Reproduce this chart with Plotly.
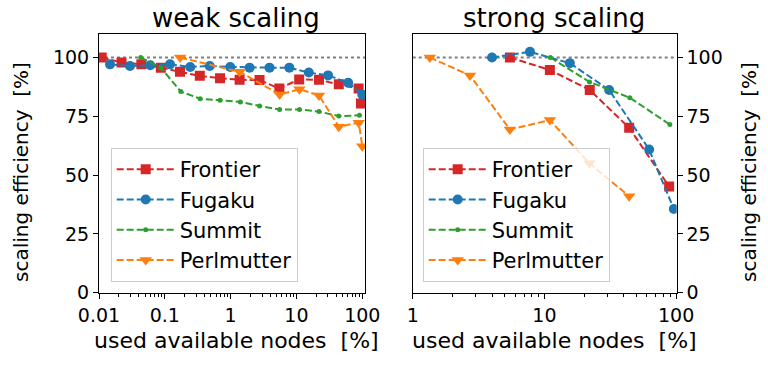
import plotly.graph_objects as go
import math

# ---------------- data ----------------
series_names = ["Frontier", "Fugaku", "Summit", "Perlmutter"]
colors = ["#d62728", "#1f77b4", "#2ca02c", "#ff7f0e"]
symbols = ["square", "circle", "circle", "triangle-down"]
msizes = [10, 10, 5, 11]

# weak scaling (x: used available nodes [%], y: scaling efficiency [%])
weak_frontier_x = [0.011, 0.022, 0.044, 0.087, 0.17, 0.34, 0.69, 1.37, 2.75, 5.5, 11, 22, 44, 88, 95.5]
weak_frontier_y = [100, 97.9, 97.1, 95.7, 93.9, 92.2, 91.2, 90.5, 90.4, 86.8, 90.7, 90.5, 88.6, 86.8, 80.5]
weak_fugaku_x = [0.0147, 0.0296, 0.06, 0.12, 0.243, 0.48, 0.986, 1.94, 3.9, 7.8, 15.4, 30.2, 61, 100]
weak_fugaku_y = [97.1, 96.4, 96.7, 97.1, 96.0, 96.4, 96.0, 95.7, 95.7, 95.7, 93.6, 92.4, 89.3, 84.3]
weak_summit_x = [0.043, 0.087, 0.175, 0.344, 0.69, 1.4, 2.75, 5.55, 11.1, 22, 44, 90.6]
weak_summit_y = [100, 95.7, 85.5, 82.5, 81.8, 81.1, 79.4, 77.9, 77.9, 77.0, 75.1, 75.4]
weak_perlmutter_x = [0.171, 1.37, 5.55, 11.1, 22, 44, 88.5, 100]
weak_perlmutter_y = [100, 93.9, 84.3, 86.5, 83.9, 70.6, 72.3, 62.3]

# strong scaling
strong_frontier_x = [5.47, 11, 22.1, 44, 88.5]
strong_frontier_y = [100, 94.7, 86.2, 70.1, 45.2]
strong_fugaku_x = [4, 7.77, 15.6, 31, 62.4, 96]
strong_fugaku_y = [100, 102.4, 97.6, 86.2, 60.9, 35.6]
strong_summit_x = [11.1, 22, 44.5, 89.6]
strong_summit_y = [100, 89.6, 82.9, 71.5]
strong_perlmutter_x = [1.35, 2.72, 5.47, 11, 22, 44]
strong_perlmutter_y = [100, 92.4, 69.4, 73.4, 55, 41]

weak = [(weak_frontier_x, weak_frontier_y), (weak_fugaku_x, weak_fugaku_y),
        (weak_summit_x, weak_summit_y), (weak_perlmutter_x, weak_perlmutter_y)]
strong = [(strong_frontier_x, strong_frontier_y), (strong_fugaku_x, strong_fugaku_y),
          (strong_summit_x, strong_summit_y), (strong_perlmutter_x, strong_perlmutter_y)]

y_ticks = [0, 25, 50, 75, 100]
weak_x_ticks = [0.01, 0.1, 1, 10, 100]
weak_x_labels = ["0.01", "0.1", "1", "10", "100"]
strong_x_ticks = [1, 10, 100]
strong_x_labels = ["1", "10", "100"]

# ---------------- figure ----------------
FONT = "DejaVu Sans"
W, H = 768, 365
fig = go.Figure()

for i, name in enumerate(series_names):
    for (xs, ys), xa, ya, lg in [(weak[i], "x", "y", "legend"), (strong[i], "x2", "y2", "legend2")]:
        fig.add_trace(go.Scatter(
            x=xs, y=ys, name=name, mode="lines+markers",
            xaxis=xa, yaxis=ya, legend=lg,
            line=dict(color=colors[i], width=2, dash="7px,3px"),
            marker=dict(symbol=symbols[i], size=msizes[i], color=colors[i]),
        ))

def px_x(p):
    return p / W

def px_y(p):
    return 1 - p / H

def minor_vals(lo, hi):
    vals = []
    d = lo
    while d < hi:
        vals += [d * k for k in range(2, 10)]
        d *= 10
    return vals

axis_common = dict(showline=True, linecolor="black", linewidth=1, mirror=True,
                   ticks="outside", ticklen=5, tickcolor="black", showgrid=False,
                   zeroline=False, automargin=False,
                   tickfont=dict(family=FONT, size=19, color="black"))

legend_common = dict(xanchor="left", yanchor="top", itemwidth=58,
                     bgcolor="rgba(255,255,255,0.8)", bordercolor="#cccccc", borderwidth=1,
                     font=dict(family=FONT, size=21, color="black"))

fig.update_layout(
    width=W, height=H, margin=dict(l=0, r=0, t=0, b=0, autoexpand=False),
    paper_bgcolor="white", plot_bgcolor="white",
    font=dict(family=FONT, color="black"),
    xaxis=dict(type="log", domain=[px_x(99), px_x(365)], range=[-2, math.log10(110)],
               tickvals=weak_x_ticks, ticktext=weak_x_labels,
               minor=dict(ticks="outside", ticklen=3, tickcolor="black",
                          tickvals=minor_vals(0.01, 100)),
               anchor="y", **axis_common),
    yaxis=dict(domain=[px_y(292.7), px_y(34)], range=[0, 110], tickvals=y_ticks,
               anchor="x", **axis_common),
    xaxis2=dict(type="log", domain=[px_x(412.7), px_x(676.7)], range=[0, math.log10(101)],
                tickvals=strong_x_ticks, ticktext=strong_x_labels,
                minor=dict(ticks="outside", ticklen=3, tickcolor="black",
                           tickvals=minor_vals(1, 100)),
                anchor="y2", **axis_common),
    yaxis2=dict(domain=[px_y(292.7), px_y(34)], range=[0, 110], tickvals=y_ticks,
                side="right", anchor="x2", **axis_common),
    legend=dict(x=px_x(110.7), y=px_y(148), **legend_common),
    legend2=dict(x=px_x(422.7), y=px_y(148), **legend_common),
    showlegend=True,
)

for xr, yr in [("x domain", "y"), ("x2 domain", "y2")]:
    fig.add_shape(type="line", xref=xr, yref=yr, x0=0, x1=1, y0=100, y1=100,
                  line=dict(color="gray", width=2, dash="dot"), layer="below")

ylabel = "scaling efficiency\u00a0\u00a0[%]"
xlabel = "used available nodes\u00a0\u00a0[%]"
ann = [
    dict(text="weak scaling", x=px_x(236), y=px_y(18), size=26, angle=0),
    dict(text="strong scaling", x=px_x(554), y=px_y(18), size=26, angle=0),
    dict(text=xlabel, x=px_x(236), y=px_y(340), size=22, angle=0),
    dict(text=xlabel, x=px_x(554), y=px_y(340), size=22, angle=0),
    dict(text=ylabel, x=px_x(21), y=px_y(172), size=20, angle=-90),
    dict(text=ylabel, x=px_x(749), y=px_y(172), size=20, angle=-90),
]
for a in ann:
    fig.add_annotation(text=a["text"], x=a["x"], y=a["y"], xref="paper", yref="paper",
                       xanchor="center", yanchor="middle", showarrow=False,
                       textangle=a["angle"], font=dict(family=FONT, size=a["size"], color="black"))

fig.write_html("out.html", config={"displayModeBar": False},
               post_script="document.body.style.margin='0';")
